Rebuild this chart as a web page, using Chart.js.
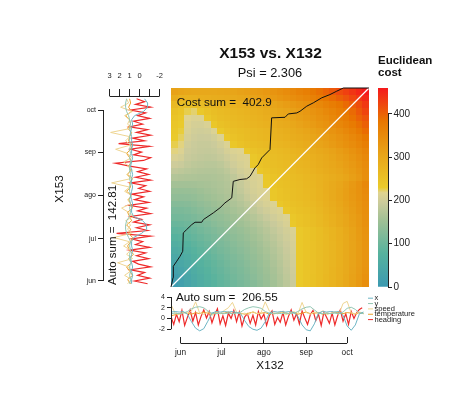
<!DOCTYPE html>
<html>
<head>
<meta charset="utf-8">
<script src="https://cdn.jsdelivr.net/npm/chart.js@4.4.1/dist/chart.umd.min.js"></script>
<style>
  html, body { margin: 0; padding: 0; background: #fff; }
  #page { position: relative; width: 474px; height: 395px; overflow: hidden;
          font-family: 'Liberation Sans', Arial, sans-serif; color: #111; }
  .box { position: absolute; }
  .txt { position: absolute; white-space: pre; line-height: 1; }
  .vert { transform: translate(-50%, -50%) rotate(-90deg); }
  .ctr { transform: translateX(-50%); }
</style>
</head>
<body>
<div id="page">
  <div class="box" style="left:0;top:40px;width:172px;height:260px"><canvas id="leftPanel"></canvas></div>
  <div class="box" style="left:100px;top:285px;width:374px;height:80px"><canvas id="bottomPanel"></canvas></div>
  <div class="box" style="left:170px;top:87px;width:200px;height:201px"><canvas id="costMap"></canvas></div>
  <div class="box" style="left:370px;top:80px;width:60px;height:215px"><canvas id="colorBar"></canvas></div>

  <div class="txt ctr" style="left:270.5px;top:44.7px;font-size:15.5px;font-weight:bold">X153 vs. X132</div>
  <div class="txt ctr" style="left:270px;top:67px;font-size:12.8px">Psi = 2.306</div>
  <div class="txt" style="left:378px;top:54px;font-size:11.5px;font-weight:bold;line-height:12px">Euclidean
cost</div>
  <div class="txt" style="left:176.7px;top:96px;font-size:11.7px">Cost sum =  402.9</div>
  <div class="txt" style="left:176px;top:291.3px;font-size:11.7px">Auto sum =  206.55</div>
  <div class="txt vert" style="left:113px;top:235px;font-size:11.5px">Auto sum =  142.81</div>
  <div class="txt vert" style="left:59px;top:189px;font-size:11.7px">X153</div>
  <div class="txt ctr" style="left:270px;top:359.3px;font-size:11.7px">X132</div>
</div>

<script>
// ---- axis ranges (days since 1 June) ----
const dayRangeX = [-7, 138];
const dayRangeY = [-4.3, 137.7];
const monthTicks = [0, 30, 61, 92, 122];
const monthNames = ['jun', 'jul', 'ago', 'sep', 'oct'];

const seriesNames = ['x', 'y', 'speed', 'temperature', 'heading'];
const seriesColors = ['#6db5c4', '#93c7b4', '#eed592', '#eca22c', '#ee2a2a'];

// ---- X153 (left panel) ----
const daysX153 = [-2, 1, 4, 7, 10, 13, 16, 19, 22, 25, 28, 31, 34, 37, 40, 43, 46, 49, 52, 55, 58, 61, 64, 67,
  70, 73, 76, 79, 82, 85, 88, 91, 94, 97, 100, 103, 106, 109, 112, 115, 118, 121, 124, 127, 130];
const x153X = [0.8, 0.8, 0.7, 0.8, 0.7, 0.8, 0.9, 0.8, 0.7, 0.8, 0.8, 0.6, -0.2, -0.7, -0.7, -0.3, 0.6, 0.8, 0.8, 0.7,
  0.8, 0.9, 0.8, 0.7, 0.8, 0.8, 0.7, 0.8, 0.9, 0.8, 0.7, 0.8, 0.8, 0.7, 0.8, 0.8, 0.9, 0.8, 0.7, 0.8, 0.5, -0.4, -0.8, -0.8, -0.5];
const x153Y = [1.0, 0.9, 1.0, 0.9, 1.0, 0.9, 1.0, 1.0, 0.9, 1.0, 0.9, 1.1, 1.3, 1.4, 1.4, 1.3, 1.0, 0.9, 1.0, 0.9,
  1.0, 0.9, 1.0, 1.0, 0.9, 1.0, 0.9, 1.0, 1.0, 0.9, 1.0, 0.9, 1.0, 0.9, 1.0, 1.0, 0.9, 1.0, 0.9, 1.0, 1.1, 1.3, 1.4, 1.4, 1.3];
const x153Speed = [1.2, 0.8, 1.5, 0.9, 1.1, 2.2, 0.7, 1.3, 0.9, 1.6, 1.0, 2.6, 0.8, 1.2, 0.9, 1.4, 0.6, 1.1, 1.8, 0.9,
  1.2, 0.8, 1.5, 1.0, 2.8, 0.9, 1.3, 0.7, 1.1, 1.6, 0.8, 1.2, 2.4, 0.9, 1.4, 1.0, 2.9, 0.8, 1.2, 1.0, 1.5, 0.7, 1.9, 1.1, 1.3];
const x153Temp = [0.9, 1.2, 0.7, 1.0, 1.3, 0.8, 1.1, 0.6, 1.0, 1.2, 0.9, 0.7, 1.1, 0.9, 1.3, 0.8, 1.0, 1.2, 0.7, 0.9,
  1.1, 0.8, 1.3, 0.9, 1.0, 0.7, 1.2, 0.9, 1.1, 0.8, 1.0, 1.3, 0.9, 0.7, 1.1, 1.0, 0.8, 1.2, 0.9, 1.0, 1.4, 0.8, 1.1, 0.9, 1.0];
// heading is sampled more densely
const daysX153Heading = [-2, 0, 2, 4, 6, 8, 10, 12, 14, 16, 18, 20, 22, 24, 26, 28, 30, 32, 34, 36, 38, 40, 42, 44,
  46, 48, 50, 52, 54, 56, 58, 60, 62, 64, 66, 68, 70, 72, 74, 76, 78, 80, 82, 84, 86, 88, 90, 92, 94, 96,
  98, 100, 102, 104, 106, 108, 110, 112, 114, 116, 118, 120, 122, 124, 126, 128, 130];
const x153Heading = [-0.8, 0.5, -1.0, 0.2, -0.5, 0.9, -1.1, 0.1, 0.7, -0.9, 0.3, -0.6, 1.0, -1.0, 0.4, -0.3, 0.8, -1.1, 2.3, -0.8,
  0.3, -1.0, 0.6, -0.2, 0.9, -1.1, 0.2, -0.7, 1.1, -0.9, 0.5, -0.4, 0.8, -1.0, 0.1, -0.6, 0.9, -1.1, 0.4, -0.9,
  0.2, -0.7, 1.0, 2.4, -0.4, -1.1, 0.6, -0.2, 0.9, -1.0, 2.1, -0.5, 0.7, -1.1, 0.3, -0.8, 1.0, -0.3, 0.6, -1.0,
  0.2, -0.6, 0.9, -1.1, 0.4, -0.5, 0.3];
const leftValueTicks = [3, 2, 1, 0, -1, -2];

// ---- X132 (bottom panel) ----
const daysX132 = [-7, -4, -1, 2, 5, 8, 11, 14, 17, 20, 23, 26, 29, 32, 35, 38, 41, 44, 47, 50, 53, 56, 59, 62,
  65, 68, 71, 74, 77, 80, 83, 86, 89, 92, 95, 98, 101, 104, 107, 110, 113, 116, 119, 122, 125, 128, 131, 134];
const x132X = [1.2, 1.3, 1.2, 1.3, 0.8, -0.6, -1.8, -2.3, -1.9, -0.5, 1.0, 1.3, 1.2, 1.3, 1.2, 1.3, 1.1, 0.9, -0.4, -1.5,
  -2.0, -2.2, -1.8, -0.6, 1.0, 1.3, 1.2, 1.3, 1.2, 1.3, 1.1, 0.4, -1.2, -2.1, -2.3, -1.0, 1.0, 1.3, 1.2, 1.3,
  1.2, 1.3, 0.6, -1.4, -2.2, -1.2, 0.9, 1.2];
const x132Y = [0.9, 1.0, 0.9, 1.0, 1.3, 1.8, 2.1, 2.2, 2.0, 1.4, 1.0, 0.9, 1.0, 0.9, 1.0, 0.9, 1.0, 1.2, 1.7, 2.0,
  2.2, 2.1, 1.9, 1.3, 1.0, 0.9, 1.0, 0.9, 1.0, 0.9, 1.0, 1.3, 1.8, 2.1, 2.2, 1.6, 1.0, 0.9, 1.0, 0.9,
  1.0, 0.9, 1.2, 1.9, 2.1, 1.7, 1.0, 0.9];
const x132Speed = [2.6, 1.0, 0.7, 1.2, 0.9, 1.4, 3.1, 1.0, 0.8, 1.3, 0.6, 1.1, 0.9, 1.5, 2.0, 3.0, 1.2, 0.8, 1.0, 0.7,
  1.3, 0.9, 1.1, 3.1, 1.4, 0.8, 1.0, 1.2, 0.7, 1.0, 1.3, 0.9, 3.0, 1.1, 0.8, 1.2, 0.9, 1.4, 0.7, 1.0,
  1.1, 0.8, 2.8, 3.2, 1.0, 0.9, 1.2, 1.0];
const x132Temp = [0.5, 0.7, 0.9, 1.1, 1.0, 0.8, 1.1, 0.9, 1.2, 1.0, 0.8, 1.1, 0.9, 1.0, 1.2, 0.9, 1.1, 1.0, 0.8, 1.0,
  1.2, 0.9, 1.0, 1.1, 0.8, 1.0, 0.9, 1.2, 1.0, 0.9, 1.1, 0.8, 1.0, 1.2, 0.9, 1.0, 1.1, 0.8, 1.0, 0.9,
  1.2, 1.0, 0.9, 1.1, 1.0, 0.8, 1.1, 0.9];
const daysX132Heading = [-7, -5, -3, -1, 1, 3, 5, 7, 9, 11, 13, 15, 17, 19, 21, 23, 25, 27, 29, 31, 33, 35, 37, 39,
  41, 43, 45, 47, 49, 51, 53, 55, 57, 59, 61, 63, 65, 67, 69, 71, 73, 75, 77, 79, 81, 83, 85, 87, 89, 91,
  93, 95, 97, 99, 101, 103, 105, 107, 109, 111, 113, 115, 117, 119, 121, 123, 125, 127, 129, 131, 133];
const x132Heading = [0.4, -1.1, 0.8, -0.6, 1.5, -1.3, 0.2, 1.6, -0.5, 1.1, -1.2, 0.4, 1.6, 0.1, 1.3, -0.8, 0.7, 1.8, -1.0, 0.5,
  -1.3, 1.0, 0.0, 1.5, -0.6, 1.2, -1.4, 0.3, 0.9, -0.9, 0.6, -1.2, 1.3, -0.1, 0.8, -1.3, 0.5, 1.4, -1.1, 0.2,
  -0.7, 1.1, -1.2, 0.4, 1.6, -0.3, 0.9, -1.0, 1.4, 0.1, -1.1, 0.7, 1.5, -0.4, 0.8, -1.3, 1.2, 0.2, -0.9, 1.0,
  -1.2, 0.5, 1.6, -0.5, 0.9, -1.1, 1.3, 0.0, 1.1, 1.7, 2.0];
const bottomValueTicks = [4, 2, 0, -2];

// ---- cost matrix (rows from top = latest X153 day, columns from first X132 day) ----
const costGrid = [
  [310, 306, 302, 300, 300, 300, 300, 301, 303, 306, 310, 314, 318, 323, 328, 334, 340, 347, 354, 362, 370, 379, 388, 398, 408, 418, 428, 438, 449, 460],
  [290, 282, 280, 282, 285, 287, 289, 291, 293, 296, 300, 304, 308, 313, 318, 324, 330, 337, 344, 351, 358, 366, 374, 383, 392, 402, 412, 423, 435, 448],
  [266, 254, 250, 254, 260, 266, 270, 273, 276, 279, 283, 287, 291, 296, 301, 306, 312, 318, 325, 332, 339, 347, 355, 364, 373, 383, 394, 405, 418, 435],
  [250, 242, 226, 222, 236, 248, 256, 262, 266, 270, 274, 278, 282, 286, 291, 296, 301, 307, 313, 320, 327, 335, 343, 352, 361, 371, 382, 394, 408, 425],
  [244, 236, 218, 212, 214, 238, 250, 257, 262, 266, 270, 274, 278, 282, 287, 292, 297, 302, 308, 315, 322, 329, 337, 345, 354, 364, 375, 387, 399, 412],
  [240, 232, 214, 206, 205, 210, 238, 250, 256, 261, 265, 269, 273, 277, 281, 286, 291, 296, 302, 308, 315, 322, 330, 338, 347, 356, 366, 377, 389, 402],
  [236, 228, 210, 202, 199, 202, 212, 236, 247, 253, 258, 262, 266, 270, 274, 278, 283, 288, 293, 299, 305, 312, 319, 327, 335, 344, 354, 365, 378, 392],
  [232, 224, 206, 198, 195, 196, 202, 212, 238, 248, 254, 259, 263, 267, 271, 275, 279, 284, 289, 294, 299, 305, 312, 319, 327, 335, 344, 354, 365, 380],
  [226, 220, 200, 194, 191, 191, 195, 203, 212, 238, 247, 253, 258, 262, 266, 270, 274, 278, 283, 288, 294, 300, 307, 314, 322, 330, 339, 348, 358, 370],
  [220, 214, 196, 192, 189, 188, 190, 196, 206, 212, 216, 238, 247, 253, 258, 262, 266, 270, 275, 280, 285, 291, 297, 304, 311, 319, 328, 337, 347, 360],
  [210, 205, 192, 188, 185, 184, 185, 190, 198, 206, 211, 214, 238, 246, 252, 257, 261, 265, 270, 275, 280, 286, 292, 298, 305, 313, 321, 330, 340, 352],
  [198, 194, 186, 182, 180, 178, 178, 182, 190, 200, 207, 212, 236, 245, 251, 256, 260, 264, 268, 273, 278, 283, 289, 295, 302, 309, 317, 326, 336, 348],
  [185, 182, 178, 175, 173, 172, 172, 175, 182, 192, 202, 208, 213, 238, 246, 252, 256, 260, 264, 269, 274, 279, 285, 291, 297, 304, 312, 321, 331, 345],
  [172, 170, 168, 167, 166, 166, 167, 170, 175, 184, 195, 204, 209, 214, 237, 245, 251, 256, 260, 264, 269, 274, 279, 285, 291, 298, 306, 315, 325, 342],
  [158, 157, 157, 158, 160, 162, 164, 167, 172, 180, 190, 200, 207, 212, 236, 244, 250, 254, 258, 262, 267, 272, 279, 287, 295, 304, 314, 325, 337, 354],
  [146, 145, 146, 148, 152, 157, 161, 165, 170, 176, 186, 197, 205, 210, 214, 238, 246, 251, 256, 260, 265, 270, 278, 287, 296, 306, 316, 327, 338, 351],
  [138, 137, 138, 141, 146, 151, 156, 161, 166, 172, 180, 191, 201, 208, 213, 237, 245, 250, 255, 259, 264, 269, 277, 286, 295, 305, 315, 326, 336, 348],
  [126, 126, 128, 132, 138, 144, 150, 155, 160, 166, 173, 182, 192, 201, 208, 213, 238, 246, 251, 256, 261, 266, 274, 283, 292, 302, 312, 323, 333, 345],
  [115, 116, 119, 124, 130, 137, 143, 148, 154, 160, 166, 174, 183, 193, 201, 208, 213, 238, 246, 251, 256, 262, 270, 279, 288, 298, 308, 319, 330, 343],
  [107, 108, 111, 116, 122, 129, 136, 141, 147, 153, 159, 166, 174, 183, 192, 200, 207, 213, 238, 246, 252, 258, 266, 275, 284, 294, 304, 315, 326, 341],
  [97, 99, 103, 108, 115, 122, 129, 135, 141, 147, 153, 160, 167, 175, 184, 193, 201, 209, 236, 245, 251, 257, 265, 274, 283, 293, 303, 314, 325, 339],
  [86, 89, 94, 100, 107, 114, 121, 128, 134, 140, 146, 153, 160, 168, 177, 186, 195, 203, 210, 236, 244, 250, 258, 267, 276, 286, 297, 309, 322, 336],
  [76, 80, 86, 93, 100, 107, 114, 121, 128, 134, 141, 148, 155, 163, 172, 181, 190, 199, 208, 236, 244, 250, 258, 266, 275, 285, 296, 308, 321, 334],
  [65, 70, 77, 85, 93, 100, 108, 115, 122, 129, 136, 143, 150, 158, 167, 176, 186, 196, 206, 235, 243, 249, 257, 265, 274, 284, 295, 307, 319, 333],
  [55, 61, 69, 78, 86, 94, 102, 110, 117, 124, 131, 138, 146, 154, 163, 172, 182, 193, 204, 235, 243, 249, 257, 265, 274, 284, 295, 307, 319, 332],
  [45, 52, 61, 71, 80, 88, 96, 104, 112, 119, 126, 134, 142, 150, 159, 168, 179, 190, 202, 235, 243, 249, 257, 265, 274, 284, 295, 307, 319, 332],
  [35, 43, 53, 64, 74, 83, 91, 99, 107, 115, 122, 130, 138, 146, 155, 165, 176, 188, 200, 234, 243, 249, 257, 265, 274, 284, 295, 307, 319, 332],
  [25, 34, 46, 57, 68, 78, 87, 95, 103, 111, 118, 126, 134, 143, 152, 162, 173, 185, 198, 234, 243, 249, 258, 266, 275, 285, 296, 308, 320, 334],
  [15, 26, 39, 51, 63, 73, 82, 91, 99, 107, 115, 123, 131, 140, 149, 159, 170, 183, 196, 234, 243, 250, 258, 267, 276, 286, 297, 310, 323, 338],
  [5, 19, 33, 46, 58, 69, 78, 87, 95, 103, 111, 119, 127, 136, 146, 156, 167, 180, 194, 234, 243, 250, 259, 268, 277, 288, 299, 312, 326, 344]
];
const costMax = 460;
const costTicks = [0, 100, 200, 300, 400];

// ---- warping path (X132 day, X153 day) ----
const pathX = [-7, -5.5, -5.3, -2.8, -0.4, 1.6, 2.0, 4.5, 8.2, 10.6, 15.5, 16.7, 24.0, 28.9, 32.5, 37.5, 38.6, 43.5,
  48.4, 50.9, 54.5, 56.9, 59.4, 65.5, 66.7, 76.5, 78.9, 85.1, 87.5, 92.4, 97.2, 103.4, 109.4, 114.3, 119.2, 138];
const pathY = [-4.3, 2.4, 10.5, 14.1, 17.6, 21.2, 34.3, 36.7, 40.2, 41.9, 41.9, 43.8, 48.6, 52.2, 55.7, 59.3, 71.1, 72.4,
  72.9, 74.7, 80.7, 83.1, 87.8, 93.8, 116.4, 116.8, 119.2, 119.9, 121.1, 124.7, 127.1, 130.7, 133.0, 135.4, 137.7, 137.7];

// ---- colour ramp (value -> colour) ----
const rampStops = [[0, '#3B99B1'], [77, '#56B29E'], [153, '#9FC095'], [195, '#CBCB9B'], [218, '#E0D490'],
  [230, '#EACB2B'], [307, '#E8A419'], [383, '#E87700'], [460, '#F5191C']];

const hexToRgb = (h) => [parseInt(h.slice(1, 3), 16), parseInt(h.slice(3, 5), 16), parseInt(h.slice(5, 7), 16)];

function costColor(v) {
    for (let i = 1; i < rampStops.length; i++) {
        const [v0, c0] = rampStops[i - 1];
        const [v1, c1] = rampStops[i];
        if (v <= v1 || i === rampStops.length - 1) {
            const t = Math.max(0, Math.min(1, (v - v0) / (v1 - v0)));
            const a = hexToRgb(c0), b = hexToRgb(c1);
            const rgb = a.map((x, k) => Math.round(x + (b[k] - x) * t));
            return `rgb(${rgb.join(',')})`;
        }
    }
}

Chart.defaults.font.family = "'Liberation Sans', Arial, sans-serif";
Chart.defaults.color = '#222';
Chart.defaults.animation = false;

// R style axis line: only between first and last tick
const rAxisPlugin = {
    id: 'rAxis',
    afterDraw(chart, args, opts) {
        const ctx = chart.ctx;
        (opts.scales || []).forEach(id => {
            const s = chart.scales[id];
            const px = s.ticks.map(t => s.getPixelForValue(t.value));
            const a = Math.min(...px), b = Math.max(...px);
            ctx.save();
            ctx.strokeStyle = '#222';
            ctx.lineWidth = 1;
            ctx.beginPath();
            if (s.isHorizontal()) {
                const y = Math.round(s.position === 'top' ? s.bottom : s.top + s.options.grid.tickLength) + 0.5;
                ctx.moveTo(a, y); ctx.lineTo(b, y);
            } else {
                const x = Math.round(s.position === 'left' ? s.right : s.left) + 0.5;
                ctx.moveTo(x, a); ctx.lineTo(x, b);
            }
            ctx.stroke();
            ctx.restore();
        });
    }
};
Chart.register(rAxisPlugin);

const fixedTicks = (list) => (scale) => { scale.ticks = list.map(v => ({ value: v })); };
const monthLabel = (v) => monthNames[monthTicks.indexOf(v)];
const rGrid = (len) => ({ drawOnChartArea: false, drawTicks: true, tickLength: len, color: '#222', lineWidth: 1 });

// pairs: [days, values] per series, in seriesNames order
function seriesSets(pairs, horizontalTime) {
    return pairs.map(([days, vals], i) => ({
        label: seriesNames[i],
        data: vals.map((v, k) => horizontalTime ? { x: days[k], y: v } : { x: v, y: days[k] }),
        showLine: true,
        borderColor: seriesColors[i],
        borderWidth: i === 4 ? 1.2 : 1,
        pointRadius: 0,
        tension: 0
    }));
}

// --- LEFT PANEL: X153 series, time runs upwards ---
new Chart(document.getElementById('leftPanel'), {
    type: 'scatter',
    data: {
        datasets: seriesSets([[daysX153, x153X], [daysX153, x153Y], [daysX153, x153Speed],
            [daysX153, x153Temp], [daysX153Heading, x153Heading]], false)
    },
    options: {
        responsive: true,
        maintainAspectRatio: false,
        layout: { padding: { top: 0, bottom: 13, left: 0, right: 1 } },
        plugins: { legend: { display: false }, tooltip: { enabled: false }, rAxis: { scales: ['x', 'y'] } },
        scales: {
            x: {
                type: 'linear', position: 'top', reverse: true, min: -2.41, max: 3.66,
                afterFit: (s) => { s.height = 56; },
                afterBuildTicks: fixedTicks(leftValueTicks),
                grid: rGrid(7), border: { display: false },
                ticks: { font: { size: 7.5 }, padding: 9, maxRotation: 0, autoSkip: false,
                    callback: (v) => v === -1 ? '' : String(v) }
            },
            y: {
                type: 'linear', position: 'left', min: dayRangeY[0], max: 132,
                afterFit: (s) => { s.width = 103; },
                afterBuildTicks: fixedTicks(monthTicks),
                grid: rGrid(5), border: { display: false },
                ticks: { font: { size: 7 }, padding: 2, autoSkip: false, callback: monthLabel }
            }
        }
    }
});

// --- BOTTOM PANEL: X132 series ---
const sideLegendPlugin = {
    id: 'sideLegend',
    afterDraw(chart) {
        const { ctx, chartArea } = chart;
        ctx.save();
        ctx.font = "7.5px 'Liberation Sans', Arial, sans-serif";
        ctx.textBaseline = 'middle';
        chart.data.datasets.forEach((ds, i) => {
            const yy = chartArea.top + 7 + i * 5.35;
            ctx.strokeStyle = ds.borderColor;
            ctx.lineWidth = 1;
            ctx.beginPath();
            ctx.moveTo(chartArea.right - 1, yy);
            ctx.lineTo(chartArea.right + 4, yy);
            ctx.stroke();
            ctx.fillStyle = '#222';
            ctx.fillText(ds.label, chartArea.right + 5.5, yy);
        });
        ctx.restore();
    }
};

new Chart(document.getElementById('bottomPanel'), {
    type: 'scatter',
    data: {
        datasets: seriesSets([[daysX132, x132X], [daysX132, x132Y], [daysX132, x132Speed],
            [daysX132, x132Temp], [daysX132Heading, x132Heading]], true)
    },
    options: {
        responsive: true,
        maintainAspectRatio: false,
        layout: { padding: { top: 5, bottom: 0, left: 0, right: 105 } },
        plugins: { legend: { display: false }, tooltip: { enabled: false }, rAxis: { scales: ['x', 'y'] } },
        scales: {
            x: {
                type: 'linear', min: dayRangeX[0], max: dayRangeX[1],
                afterFit: (s) => { s.height = 28; },
                afterBuildTicks: fixedTicks(monthTicks),
                grid: rGrid(6), border: { display: false },
                ticks: { font: { size: 8.3 }, padding: 5, maxRotation: 0, autoSkip: false, callback: monthLabel }
            },
            y: {
                type: 'linear', min: -3.45, max: 5.09,
                afterFit: (s) => { s.width = 71; },
                afterBuildTicks: fixedTicks(bottomValueTicks),
                grid: rGrid(4), border: { display: false },
                ticks: { font: { size: 7 }, padding: 2, autoSkip: false }
            }
        }
    },
    plugins: [sideLegendPlugin]
});

// --- COST MATRIX ---
const costCellsPlugin = {
    id: 'costCells',
    beforeDatasetsDraw(chart) {
        const { ctx, scales: { x, y } } = chart;
        const rows = costGrid.length, cols = costGrid[0].length;
        const dx = (x.max - x.min) / cols, dy = (y.max - y.min) / rows;
        ctx.save();
        costGrid.forEach((row, r) => {
            const top = Math.round(y.getPixelForValue(y.max - r * dy));
            const bot = Math.round(y.getPixelForValue(y.max - (r + 1) * dy));
            row.forEach((v, c) => {
                const left = Math.round(x.getPixelForValue(x.min + c * dx));
                const right = Math.round(x.getPixelForValue(x.min + (c + 1) * dx));
                ctx.fillStyle = costColor(v);
                ctx.fillRect(left, top, right - left, bot - top);
            });
        });
        ctx.restore();
    }
};

new Chart(document.getElementById('costMap'), {
    type: 'scatter',
    data: {
        datasets: [
            {
                label: 'path',
                data: pathX.map((v, i) => ({ x: v, y: pathY[i] })),
                showLine: true, borderColor: '#111', borderWidth: 1, pointRadius: 0, clip: false
            },
            {
                label: 'diagonal',
                data: [{ x: dayRangeX[0], y: dayRangeY[0] }, { x: dayRangeX[1], y: dayRangeY[1] }],
                showLine: true, borderColor: '#ffffff', borderWidth: 1.2, pointRadius: 0, clip: false
            }
        ]
    },
    options: {
        responsive: true,
        maintainAspectRatio: false,
        layout: { padding: 1 },
        plugins: { legend: { display: false }, tooltip: { enabled: false } },
        scales: {
            x: { type: 'linear', display: false, min: dayRangeX[0], max: dayRangeX[1] },
            y: { type: 'linear', display: false, min: dayRangeY[0], max: dayRangeY[1] }
        }
    },
    plugins: [costCellsPlugin]
});

// --- COLOUR BAR ---
function barGradient(chart) {
    const a = chart.chartArea;
    if (!a) return '#cccccc';
    const g = chart.ctx.createLinearGradient(0, a.bottom, 0, a.top);
    rampStops.forEach(([v, c]) => g.addColorStop(v / costMax, c));
    return g;
}

new Chart(document.getElementById('colorBar'), {
    type: 'bar',
    data: {
        labels: ['cost'],
        datasets: [{
            data: [[0, costMax]],
            backgroundColor: (ctx) => barGradient(ctx.chart),
            borderWidth: 0, barPercentage: 1, categoryPercentage: 1
        }]
    },
    options: {
        responsive: true,
        maintainAspectRatio: false,
        layout: { padding: { left: 8, right: 0, top: 8, bottom: 8 } },
        plugins: { legend: { display: false }, tooltip: { enabled: false }, rAxis: { scales: ['y'] } },
        scales: {
            x: { display: false },
            y: {
                position: 'right', min: 0, max: costMax,
                afterFit: (s) => { s.width = 42; },
                afterBuildTicks: fixedTicks(costTicks),
                grid: rGrid(4), border: { display: false },
                ticks: { font: { size: 10 }, padding: 1.5, autoSkip: false }
            }
        }
    }
});
</script>
</body>
</html>
